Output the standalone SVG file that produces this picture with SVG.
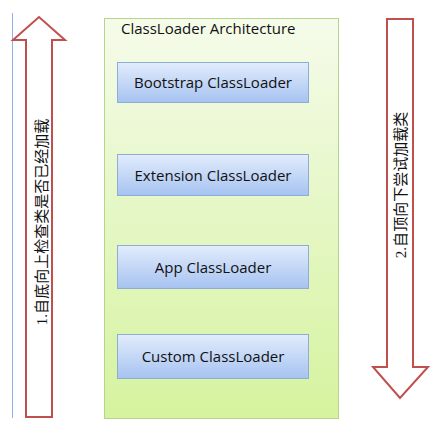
<svg xmlns="http://www.w3.org/2000/svg" width="433" height="433" viewBox="0 0 433 433">
<defs>
<linearGradient id="gGreen" x1="0" y1="0" x2="0" y2="1">
<stop offset="0" stop-color="#f5fbea"/>
<stop offset="1" stop-color="#d5f39e"/>
</linearGradient>
<linearGradient id="gBlue" x1="0" y1="0" x2="0" y2="1">
<stop offset="0" stop-color="#e2ecfc"/>
<stop offset="1" stop-color="#a6c3f1"/>
</linearGradient>
</defs>
<style>
.arrow{fill:#ffffff;stroke:#c0504d;stroke-width:2}
.node rect{fill:url(#gBlue);stroke:#8eacd8;stroke-width:1}
.lbl{font-family:"Open Sans","Liberation Sans",sans-serif;font-size:15px;fill:#111;text-anchor:middle}
.cjk{font-family:"Liberation Serif","Noto Sans CJK SC",serif;font-size:15px;fill:#111;text-anchor:middle}
</style>
<rect width="433" height="433" fill="#ffffff"/>
<line x1="12.5" y1="13" x2="12.5" y2="418" stroke="#8fb0e0" stroke-width="1"/>
<g id="container">
<rect x="104.5" y="18.5" width="234" height="400" fill="url(#gGreen)" stroke="#b5d58c" stroke-width="1"/>
<text x="121" y="34" font-family="'Open Sans','Liberation Sans',sans-serif" font-size="15" fill="#111">ClassLoader Architecture</text>
</g>
<g id="bootstrap" class="node">
<rect x="117.5" y="62.5" width="191" height="40"/>
<text class="lbl" x="213" y="88">Bootstrap ClassLoader</text>
</g>
<g id="extension" class="node">
<rect x="117.5" y="154.5" width="191" height="41"/>
<text class="lbl" x="213" y="180.5">Extension ClassLoader</text>
</g>
<g id="app" class="node">
<rect x="117.5" y="245.5" width="191" height="43"/>
<text class="lbl" x="213" y="272.5">App ClassLoader</text>
</g>
<g id="custom" class="node">
<rect x="117.5" y="334.5" width="191" height="44"/>
<text class="lbl" x="213" y="361.5">Custom ClassLoader</text>
</g>
<g id="connectors">
<g id="up-arrow">
<polygon class="arrow" points="26,417 26,40 13,40 39,17 65,40 52,40 52,417"/>
<text class="cjk" transform="translate(47,222) rotate(-90)">1.自底向上检查类是否已经加载</text>
</g>
<g id="down-arrow">
<polygon class="arrow" points="387,19 413,19 413,367 428,367 400,398 373,367 387,367"/>
<text class="cjk" transform="translate(406,185) rotate(-90)">2.自顶向下尝试加载类</text>
</g>
</g>
</svg>
